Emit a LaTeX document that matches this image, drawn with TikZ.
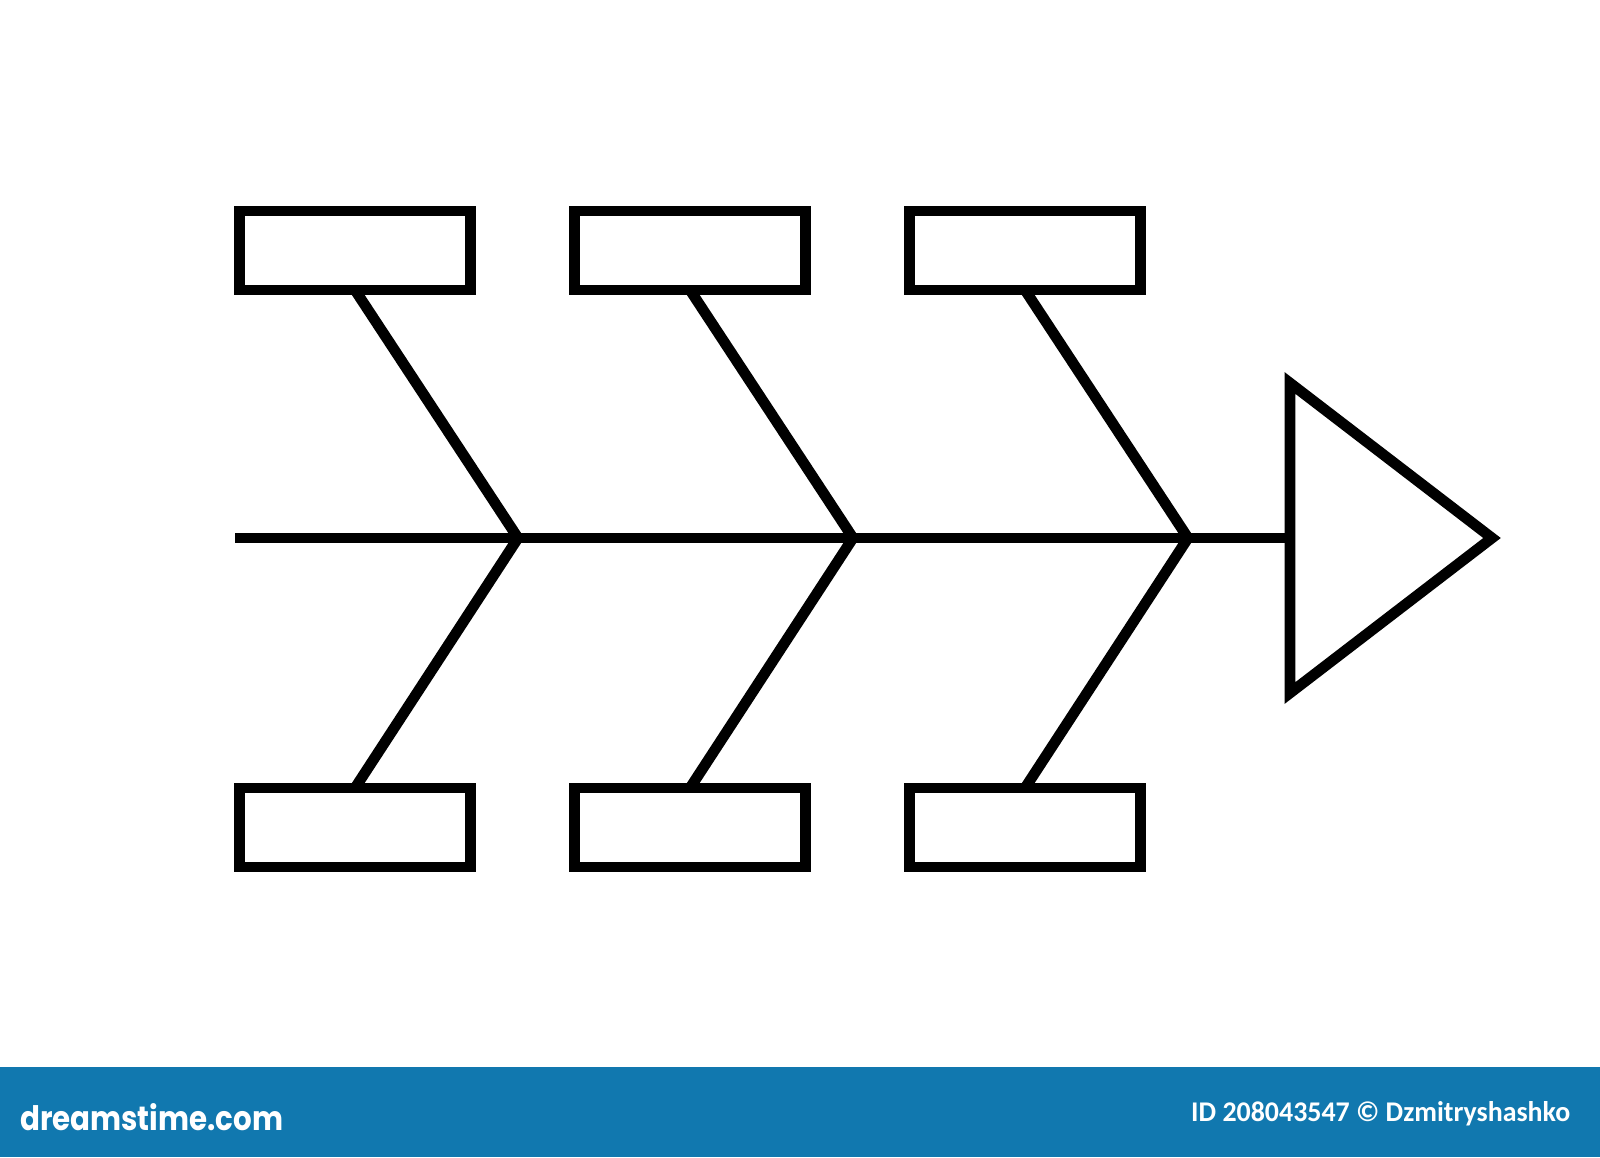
\documentclass[tikz,border=0pt]{standalone}
\usepackage{fontspec}
\setmainfont{Liberation Sans}
\newfontfamily\logofont{Poppins}
\newfontfamily\idfont{Carlito}
\definecolor{banner}{RGB}{17,120,175}
\begin{document}
\begin{tikzpicture}[x=1pt,y=-1pt,
  bone/.style={draw=black,line width=10.7pt},
  catbox/.style={draw=black,line width=10.7pt,fill=white,minimum width=231pt,minimum height=79pt,inner sep=0pt,outer sep=0pt}]
\useasboundingbox (0,0) rectangle (1600,1157);
\fill[white] (0,0) rectangle (1600,1157);
% banner
\fill[banner] (0,1067) rectangle (1600,1157);
\node[anchor=base west,inner sep=0pt,text=white] (logo) at (20,1130)
  {\resizebox{263pt}{27pt}{\logofont\bfseries dreamstime.com}};
\node[anchor=base west,inner sep=0pt,text=white] (credit) at (1191,1121)
  {\resizebox{379pt}{20pt}{\idfont\bfseries ID 208043547 © Dzmitryshashko}};
% junctions
\coordinate (j1) at (518,538);
\coordinate (j2) at (853,538);
\coordinate (j3) at (1188,538);
\coordinate (tail) at (235,538);
\coordinate (head) at (1290,538);
% boxes
\node[catbox] (t1) at (355,250.5) {};
\node[catbox] (t2) at (690,250.5) {};
\node[catbox] (t3) at (1025,250.5) {};
\node[catbox] (b1) at (355,827.5) {};
\node[catbox] (b2) at (690,827.5) {};
\node[catbox] (b3) at (1025,827.5) {};
% spine
\draw[bone] (tail) -- (head);
\foreach \i in {1,2,3}{
  \draw[bone] (t\i.south) -- (j\i) -- (b\i.north);
}
% head triangle
\coordinate (htop) at (1290,383);
\coordinate (htip) at (1492,538);
\coordinate (hbot) at (1290,693);
\draw[bone] (htop) -- (htip) -- (hbot) -- cycle;
\end{tikzpicture}
\end{document}
